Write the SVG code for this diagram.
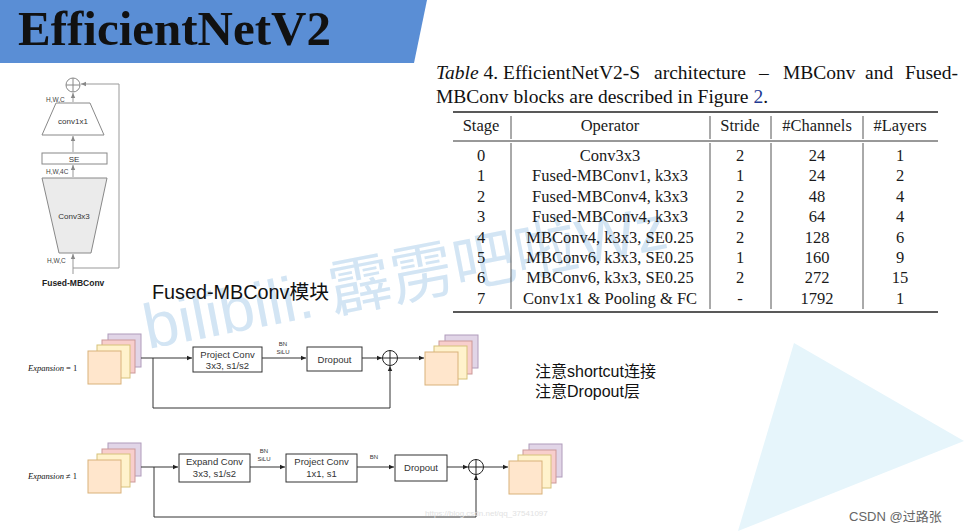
<svg xmlns="http://www.w3.org/2000/svg" width="964" height="531" viewBox="0 0 964 531">
<style>
.ser{font-family:"Liberation Serif","Times New Roman",serif;fill:#111}
.cap{font-family:"Liberation Serif","Times New Roman",serif;font-size:19.5px;fill:#111}
.tb{font-family:"Liberation Serif","Times New Roman",serif;font-size:16.5px;fill:#1a1a1a;text-anchor:middle}
.sm{font-family:"Liberation Sans",Arial,sans-serif;fill:#333;text-anchor:middle}
.lbl{font-family:"Liberation Sans",Arial,sans-serif;font-size:6.5px;fill:#444}
.box{fill:#fff;stroke:#333;stroke-width:1}
.ln{fill:none;stroke:#333;stroke-width:1}
.lg{fill:none;stroke:#999;stroke-width:1}
.cjk{font-family:"Liberation Sans","Noto Sans CJK SC",sans-serif}
.sep{stroke:#555;stroke-width:1}
</style>
<defs>
<marker id="ah" markerWidth="6" markerHeight="6" refX="5" refY="3" orient="auto" markerUnits="userSpaceOnUse"><path d="M0,0.8 L5,3 L0,5.2 z" fill="#222"/></marker>
<marker id="ahg" markerWidth="6" markerHeight="6" refX="5" refY="3" orient="auto" markerUnits="userSpaceOnUse"><path d="M0,0.8 L5,3 L0,5.2 z" fill="#888"/></marker>
<g id="stack">
<rect x="20" y="0" width="33" height="33" fill="#e1d5e7" stroke="#b09cbb"/>
<rect x="14" y="6" width="33" height="33" fill="#f8cecc" stroke="#c99"/>
<rect x="9" y="11" width="33" height="33" fill="#fff2cc" stroke="#d6c27a"/>
<rect x="0" y="17" width="33" height="33" fill="#ffe6cc" stroke="#d9b27a"/>
</g>
</defs>
<rect width="964" height="531" fill="#fff"/>

<!-- background decoration -->
<polygon points="794,343 964,441 738,531" fill="#e6f5fb"/>
<text x="148" y="349" transform="rotate(-11 148 349)" class="cjk" font-size="63" fill="#d3e5f4">bilibili: 霹雳吧啦Wz</text>

<!-- title -->
<g id="title">
<polygon points="0,0 427,0 414,63 0,63" fill="#5a8ed5"/>
<text x="18" y="45" class="ser" font-size="49" font-weight="bold" fill="#000">EfficientNetV2</text>
</g>

<!-- small Fused-MBConv figure -->
<g id="paper-fig">
<g id="add-top">
<circle cx="73" cy="85" r="7" fill="#fff" stroke="#888"/>
<path d="M66,85 H80 M73,78 V92" stroke="#888" stroke-width="1"/>
</g>
<g id="conv1x1">
<polygon points="56,103 90,103 104,135 42,135" fill="#fff" stroke="#888"/>
<text x="73" y="124" class="sm" font-size="8">conv1x1</text>
</g>
<g id="se">
<rect x="42" y="153" width="65" height="11" fill="#fff" stroke="#888"/>
<text x="74" y="162" class="sm" font-size="8">SE</text>
</g>
<g id="conv3x3">
<polygon points="42,178 107,178 91,253 59,253" fill="#ebebeb" stroke="#888"/>
<text x="74" y="219" class="sm" font-size="8">Conv3x3</text>
</g>
<text x="46" y="102" class="lbl">H,W,C</text>
<text x="46" y="174" class="lbl">H,W,4C</text>
<text x="47" y="263" class="lbl">H,W,C</text>
<text x="42" y="286" font-family="Liberation Sans,Arial,sans-serif" font-size="8.5" font-weight="bold" fill="#222">Fused-MBConv</text>
</g>
<g id="paper-connectors">
<path class="lg" d="M73,274 V254" marker-end="url(#ahg)"/>
<path class="lg" d="M73,177 V165" marker-end="url(#ahg)"/>
<path class="lg" d="M73,152 V136" marker-end="url(#ahg)"/>
<path class="lg" d="M73,102 V93" marker-end="url(#ahg)"/>
<path class="lg" d="M73,268 H119 V84 H81" marker-end="url(#ahg)"/>
</g>

<!-- table -->
<g id="table">
<g class="cap">
<text x="436" y="79"><tspan font-style="italic">Table</tspan> 4. EfficientNetV2-S</text>
<text x="654" y="79">architecture</text>
<text x="759" y="79">–</text>
<text x="783" y="79">MBConv</text>
<text x="865" y="79">and</text>
<text x="958" y="79" text-anchor="end">Fused-</text>
<text x="436" y="103">MBConv blocks are described in Figure <tspan fill="#1f3a93">2</tspan>.</text>
</g>
<line x1="453" y1="112" x2="938" y2="112" stroke="#222" stroke-width="1.6"/>
<line x1="453" y1="141" x2="938" y2="141" stroke="#333" stroke-width="1"/>
<line x1="453" y1="312" x2="938" y2="312" stroke="#222" stroke-width="1.6"/>
<g class="sep">
<line x1="511" y1="116" x2="511" y2="139"/><line x1="710" y1="116" x2="710" y2="139"/><line x1="771" y1="116" x2="771" y2="139"/><line x1="863" y1="116" x2="863" y2="139"/>
<line x1="511" y1="143" x2="511" y2="309"/><line x1="710" y1="143" x2="710" y2="309"/><line x1="771" y1="143" x2="771" y2="309"/><line x1="863" y1="143" x2="863" y2="309"/>
</g>
<g class="tb">
<text x="481" y="131">Stage</text><text x="610" y="131">Operator</text><text x="740" y="131">Stride</text><text x="817" y="131">#Channels</text><text x="900" y="131">#Layers</text>
<text x="481" y="161">0</text><text x="610" y="161">Conv3x3</text><text x="740" y="161">2</text><text x="817" y="161">24</text><text x="900" y="161">1</text>
<text x="481" y="181.4">1</text><text x="610" y="181.4">Fused-MBConv1, k3x3</text><text x="740" y="181.4">1</text><text x="817" y="181.4">24</text><text x="900" y="181.4">2</text>
<text x="481" y="201.8">2</text><text x="610" y="201.8">Fused-MBConv4, k3x3</text><text x="740" y="201.8">2</text><text x="817" y="201.8">48</text><text x="900" y="201.8">4</text>
<text x="481" y="222.2">3</text><text x="610" y="222.2">Fused-MBConv4, k3x3</text><text x="740" y="222.2">2</text><text x="817" y="222.2">64</text><text x="900" y="222.2">4</text>
<text x="481" y="242.6">4</text><text x="610" y="242.6">MBConv4, k3x3, SE0.25</text><text x="740" y="242.6">2</text><text x="817" y="242.6">128</text><text x="900" y="242.6">6</text>
<text x="481" y="263">5</text><text x="610" y="263">MBConv6, k3x3, SE0.25</text><text x="740" y="263">1</text><text x="817" y="263">160</text><text x="900" y="263">9</text>
<text x="481" y="283.4">6</text><text x="610" y="283.4">MBConv6, k3x3, SE0.25</text><text x="740" y="283.4">2</text><text x="817" y="283.4">272</text><text x="900" y="283.4">15</text>
<text x="481" y="303.8">7</text><text x="610" y="303.8">Conv1x1 &amp; Pooling &amp; FC</text><text x="740" y="303.8">-</text><text x="817" y="303.8">1792</text><text x="900" y="303.8">1</text>
</g>
</g>

<text x="152" y="299" class="cjk" font-size="19.8" fill="#111">Fused-MBConv模块</text>

<!-- Expansion = 1 -->
<g id="exp1">
<text x="28" y="371" class="ser" font-size="8.5" fill="#333"><tspan font-style="italic">Expansion</tspan> = 1</text>
<use id="in1" href="#stack" x="88" y="334"/>
<g id="pc1"><rect class="box" x="193" y="347" width="69" height="25"/>
<text x="227.5" y="357.5" class="sm" font-size="9.5">Project Conv</text><text x="227.5" y="368.5" class="sm" font-size="9.5">3x3, s1/s2</text></g>
<text x="283" y="346" class="sm" font-size="6">BN</text><text x="283" y="354" class="sm" font-size="6">SiLU</text>
<g id="do1"><rect class="box" x="307" y="347" width="55" height="24"/>
<text x="334.5" y="362.5" class="sm" font-size="9.5">Dropout</text></g>
<g id="add1"><circle cx="390" cy="358" r="7.5" fill="#fff" stroke="#222"/><path d="M382.5,358 H397.5 M390,350.5 V365.5" stroke="#222"/></g>
<use id="out1" href="#stack" x="425" y="335"/>
</g>

<!-- Expansion != 1 -->
<g id="exp2">
<text x="28" y="479" class="ser" font-size="8.5" fill="#333"><tspan font-style="italic">Expansion</tspan> ≠ 1</text>
<use id="in2" href="#stack" x="88" y="443"/>
<g id="ec2"><rect class="box" x="179" y="454" width="71" height="28"/>
<text x="214.5" y="465" class="sm" font-size="9.5">Expand Conv</text><text x="214.5" y="477" class="sm" font-size="9.5">3x3, s1/s2</text></g>
<text x="264" y="453" class="sm" font-size="6">BN</text><text x="264" y="461" class="sm" font-size="6">SiLU</text>
<g id="pc2"><rect class="box" x="286" y="454" width="71" height="28"/>
<text x="321.5" y="465" class="sm" font-size="9.5">Project Conv</text><text x="321.5" y="477" class="sm" font-size="9.5">1x1, s1</text></g>
<text x="374" y="459" class="sm" font-size="6">BN</text>
<g id="do2"><rect class="box" x="395" y="455" width="52" height="26"/>
<text x="421" y="471" class="sm" font-size="9.5">Dropout</text></g>
<g id="add2"><circle cx="476" cy="467" r="7.5" fill="#fff" stroke="#222"/><path d="M468.5,467 H483.5 M476,459.5 V474.5" stroke="#222"/></g>
<use id="out2" href="#stack" x="509" y="444"/>
</g>

<g id="connectors">
<path class="ln" d="M141,358 H192" marker-end="url(#ah)"/>
<path class="ln" d="M262,358 H306" marker-end="url(#ah)"/>
<path class="ln" d="M362,358 H382" marker-end="url(#ah)"/>
<path class="ln" d="M397.5,358 H424" marker-end="url(#ah)"/>
<path class="ln" d="M153,358 V408 H390 V366" marker-end="url(#ah)"/>
<path class="ln" d="M141,467 H178" marker-end="url(#ah)"/>
<path class="ln" d="M250,467 H285" marker-end="url(#ah)"/>
<path class="ln" d="M357,467 H394" marker-end="url(#ah)"/>
<path class="ln" d="M447,467 H468" marker-end="url(#ah)"/>
<path class="ln" d="M483.5,467 H508" marker-end="url(#ah)"/>
<path class="ln" d="M154,467 V517 H476 V475" marker-end="url(#ah)"/>
</g>

<text x="425" y="516" font-family="Liberation Sans,Arial,sans-serif" font-size="8" fill="#e2e2e2">https://blog.csdn.net/qq_37541097</text>

<g id="notes" class="cjk" font-size="16" fill="#111">
<text x="535" y="377">注意shortcut连接</text>
<text x="535" y="397">注意Dropout层</text>
</g>
<text x="849" y="521" class="cjk" font-size="13" fill="#666">CSDN @过路张</text>
</svg>
